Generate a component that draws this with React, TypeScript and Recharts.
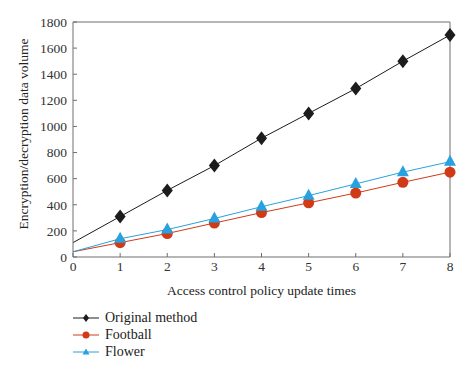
import { LineChart, Line, XAxis, YAxis, ReferenceLine } from 'recharts';

const updateTimes = [0, 1, 2, 3, 4, 5, 6, 7, 8];
const originalMethod = [110, 310, 510, 700, 910, 1100, 1290, 1500, 1700];
const football = [40, 110, 180, 260, 340, 415, 490, 572, 650];
const flower = [40, 140, 210, 295, 385, 470, 560, 650, 730];
const yTicks = [0, 200, 400, 600, 800, 1000, 1200, 1400, 1600, 1800];

const FONT = '"Liberation Serif", "DejaVu Serif", serif';
const BLACK = '#1c1c1c';
const RED = '#d13a17';
const BLUE = '#27a2df';
const AXIS = '#6e6e6e';

const data = updateTimes.map((t, i) => ({
  t,
  original: originalMethod[i],
  football: football[i],
  flower: flower[i],
}));

// the first point (x = 0) is only where the line starts, no marker
const diamond = (props: any) => {
  const { cx, cy, index } = props;
  if (index === 0) return <g key={`d-${index}`} />;
  return (
    <path
      key={`d-${index}`}
      d={`M${cx},${cy - 7} L${cx + 5.5},${cy} L${cx},${cy + 7} L${cx - 5.5},${cy} Z`}
      fill={BLACK}
    />
  );
};

const circle = (props: any) => {
  const { cx, cy, index } = props;
  if (index === 0) return <g key={`c-${index}`} />;
  return <circle key={`c-${index}`} cx={cx} cy={cy} r={5.5} fill={RED} />;
};

const triangle = (props: any) => {
  const { cx, cy, index } = props;
  if (index === 0) return <g key={`t-${index}`} />;
  return (
    <path
      key={`t-${index}`}
      d={`M${cx},${cy - 7} L${cx + 6},${cy + 4} L${cx - 6},${cy + 4} Z`}
      fill={BLUE}
    />
  );
};

const legendItems = [
  { name: 'Original method', color: BLACK, marker: 'diamond' },
  { name: 'Football', color: RED, marker: 'circle' },
  { name: 'Flower', color: BLUE, marker: 'triangle' },
];

function LegendMarker({ color, marker }: { color: string; marker: string }) {
  return (
    <svg width={26} height={12} style={{ display: 'block' }}>
      <line x1={0} y1={6} x2={26} y2={6} stroke={color} strokeWidth={1} />
      {marker === 'diamond' && <path d="M13,2 L16,6 L13,10 L10,6 Z" fill={color} />}
      {marker === 'circle' && <circle cx={13} cy={6} r={3.5} fill={color} />}
      {marker === 'triangle' && <path d="M13,2.5 L16.5,8.5 L9.5,8.5 Z" fill={color} />}
    </svg>
  );
}

const tickStyle = { fill: '#333', fontSize: 13.5, fontFamily: FONT };

export default function App() {
  return (
    <div
      style={{
        position: 'absolute',
        left: 0,
        top: 0,
        width: 474,
        height: 374,
        background: '#fff',
        fontFamily: FONT,
      }}
    >
      <LineChart
        width={474}
        height={374}
        data={data}
        margin={{ top: 22, right: 24, left: 0, bottom: 0 }}
        style={{ fontFamily: FONT }}
      >
        <XAxis
          dataKey="t"
          type="number"
          domain={[0, 8]}
          ticks={updateTimes}
          height={117}
          stroke={AXIS}
          tickSize={-4}
          tickMargin={8}
          tick={tickStyle}
          label={{
            value: 'Access control policy update times',
            position: 'insideTop',
            offset: 28,
            fill: '#222',
            fontSize: 13.5,
            fontFamily: FONT,
          }}
        />
        <YAxis
          type="number"
          domain={[0, 1800]}
          ticks={yTicks}
          width={73}
          stroke={AXIS}
          tickSize={-4}
          tickMargin={10}
          tick={tickStyle}
          label={{
            value: 'Encryption/decryption data volume',
            content: ({ value }: any) => (
              <text
                x={0}
                y={0}
                transform="translate(23, 134) rotate(-90)"
                textAnchor="middle"
                dominantBaseline="central"
                fill="#222"
                fontSize={13.5}
                fontFamily={FONT}
              >
                {value}
              </text>
            ),
          }}
        />
        <ReferenceLine y={1800} stroke={AXIS} />
        <ReferenceLine x={8} stroke={AXIS} />
        <Line dataKey="original" stroke={BLACK} strokeWidth={1} dot={diamond} isAnimationActive={false} />
        <Line dataKey="football" stroke={RED} strokeWidth={1} dot={circle} isAnimationActive={false} />
        <Line dataKey="flower" stroke={BLUE} strokeWidth={1} dot={triangle} isAnimationActive={false} />
      </LineChart>
      <div style={{ position: 'absolute', left: 73, top: 310, fontSize: 14, color: '#222' }}>
        {legendItems.map((item) => (
          <div key={item.name} style={{ display: 'flex', alignItems: 'center', height: 16.7 }}>
            <LegendMarker color={item.color} marker={item.marker} />
            <span style={{ marginLeft: 6 }}>{item.name}</span>
          </div>
        ))}
      </div>
    </div>
  );
}
